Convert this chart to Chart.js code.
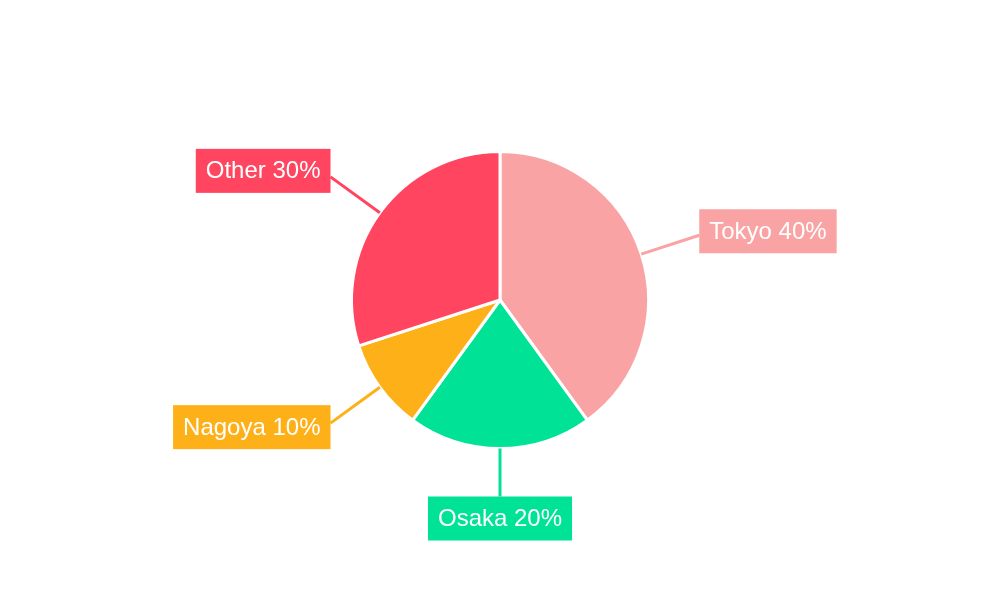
<!DOCTYPE html>
<html>
<head>
<meta charset="utf-8">
<script src="https://cdn.jsdelivr.net/npm/chart.js@4/dist/chart.umd.min.js"></script>
<style>
  html, body { margin: 0; padding: 0; background: #ffffff; }
  #wrap { width: 1000px; height: 600px; }
</style>
</head>
<body>
<div id="wrap"><canvas id="c" width="1000" height="600"></canvas></div>
<script>
const categories = ["Tokyo", "Osaka", "Nagoya", "Other"];
const shares = [40, 20, 10, 30];
const sliceColors = ["#f9a3a4", "#00e396", "#feb019", "#ff4560"];

const calloutPlugin = {
  id: 'callouts',
  afterDatasetsDraw(chart) {
    const ctx = chart.ctx;
    const meta = chart.getDatasetMeta(0);
    const ds = chart.data.datasets[0];
    ctx.save();
    ctx.font = '24px "Liberation Sans", Arial, sans-serif';
    meta.data.forEach((arc, i) => {
      const p = arc.getProps(['x', 'y', 'startAngle', 'endAngle', 'outerRadius'], true);
      const mid = (p.startAngle + p.endAngle) / 2;
      const dx = Math.cos(mid), dy = Math.sin(mid);
      const color = ds.backgroundColor[i];
      const text = chart.data.labels[i] + ' ' + ds.data[i] + '%';
      const tw = ctx.measureText(text).width;
      const bw = tw + 20, bh = 44;
      const horizontal = Math.abs(dx) > 0.4;
      const dist = p.outerRadius + (horizontal ? 61 : 48);
      const sx = p.x + dx * p.outerRadius, sy = p.y + dy * p.outerRadius;
      const ex = p.x + dx * dist, ey = p.y + dy * dist;
      ctx.strokeStyle = color;
      ctx.lineWidth = 3;
      ctx.beginPath();
      ctx.moveTo(sx, sy);
      ctx.lineTo(ex, ey);
      ctx.stroke();
      let bx, by;
      if (horizontal) {
        bx = dx > 0 ? ex : ex - bw;
        const cy = ey + 4 * Math.sign(dy) - (dx < 0 && dy < 0 ? 2 : 0);
        by = cy - bh / 2;
      } else {
        bx = ex - bw / 2;
        by = dy > 0 ? ey : ey - bh;
      }
      ctx.fillStyle = color;
      ctx.fillRect(bx, by, bw, bh);
      ctx.fillStyle = '#ffffff';
      ctx.textAlign = 'center';
      ctx.textBaseline = 'middle';
      ctx.fillText(text, bx + bw / 2, by + bh / 2 + 1);
    });
    ctx.restore();
  }
};

new Chart(document.getElementById('c'), {
  type: 'pie',
  data: {
    labels: categories,
    datasets: [{
      data: shares,
      backgroundColor: sliceColors,
      borderColor: '#ffffff',
      borderWidth: 3,
      hoverOffset: 0
    }]
  },
  options: {
    responsive: false,
    animation: false,
    layout: { padding: { top: 150, bottom: 150, left: 0, right: 0 } },
    plugins: {
      legend: { display: false },
      tooltip: { enabled: false }
    }
  },
  plugins: [calloutPlugin]
});
</script>
</body>
</html>
